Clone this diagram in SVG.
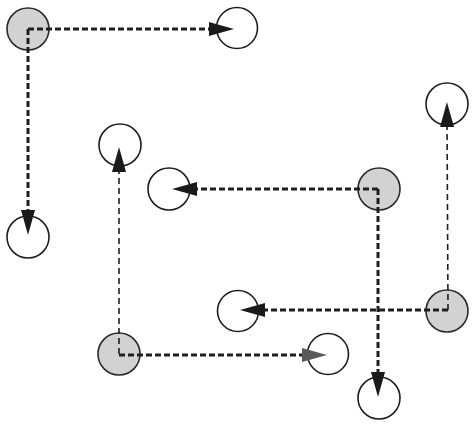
<svg xmlns="http://www.w3.org/2000/svg" width="474" height="426" viewBox="0 0 474 426">
<defs>
<style>
.w{fill:#ffffff;stroke:#1e1e1e;stroke-width:1.6}
.g{fill:#d2d2d2;stroke:#2a2a2a;stroke-width:1.6}
.thick{stroke:#1e1e1e;stroke-width:3;stroke-dasharray:6 3;fill:none}
.thin{stroke:#1e1e1e;stroke-width:1.6;stroke-dasharray:6 4;fill:none}
</style>
<marker id="ah" markerUnits="userSpaceOnUse" markerWidth="26" markerHeight="16" refX="10" refY="7" orient="auto" viewBox="0 0 26 14">
<path d="M0,0 L25,7 L0,14 z" fill="#1a1a1a"/>
</marker>
<marker id="ahg" markerUnits="userSpaceOnUse" markerWidth="26" markerHeight="16" refX="10" refY="7" orient="auto" viewBox="0 0 26 14">
<path d="M0,0 L25,7 L0,14 z" fill="#5a5a5a"/>
</marker>
</defs>
<rect width="474" height="426" fill="#ffffff"/>
<g id="nodeA"><circle class="g" cx="28" cy="29" r="21"/></g>
<g id="nodeB"><circle class="w" cx="237" cy="28" r="20.5"/></g>
<g id="nodeC"><circle class="w" cx="28" cy="237" r="21"/></g>
<g id="nodeD"><circle class="w" cx="120" cy="145" r="21"/></g>
<g id="nodeF"><circle class="w" cx="169" cy="189" r="21"/></g>
<g id="nodeG"><circle class="g" cx="379" cy="189" r="21"/></g>
<g id="nodeK"><circle class="w" cx="447" cy="104" r="21"/></g>
<g id="nodeI"><circle class="g" cx="447" cy="311" r="21"/></g>
<g id="nodeJ"><circle class="w" cx="238" cy="311" r="20.5"/></g>
<g id="nodeE"><circle class="g" cx="119" cy="354" r="21"/></g>
<g id="nodeL"><circle class="w" cx="328" cy="354" r="20.5"/></g>
<g id="nodeH"><circle class="w" cx="379" cy="398" r="21"/></g>
<g id="connectors">
<line class="thick" x1="28" y1="29" x2="219" y2="29" marker-end="url(#ah)"/>
<line class="thick" x1="28" y1="29" x2="28" y2="220" marker-end="url(#ah)"/>
<line class="thin" x1="119" y1="354" x2="119" y2="162" marker-end="url(#ah)"/>
<line class="thick" x1="378" y1="189" x2="187" y2="189" marker-end="url(#ah)"/>
<line class="thick" x1="378" y1="189" x2="378" y2="382" marker-end="url(#ah)"/>
<line class="thick" x1="448" y1="310" x2="255" y2="310" marker-end="url(#ah)"/>
<line class="thin" x1="448" y1="310" x2="447" y2="117" marker-end="url(#ah)"/>
<line class="thick" x1="119" y1="355" x2="312" y2="355" marker-end="url(#ahg)"/>
</g>
</svg>
